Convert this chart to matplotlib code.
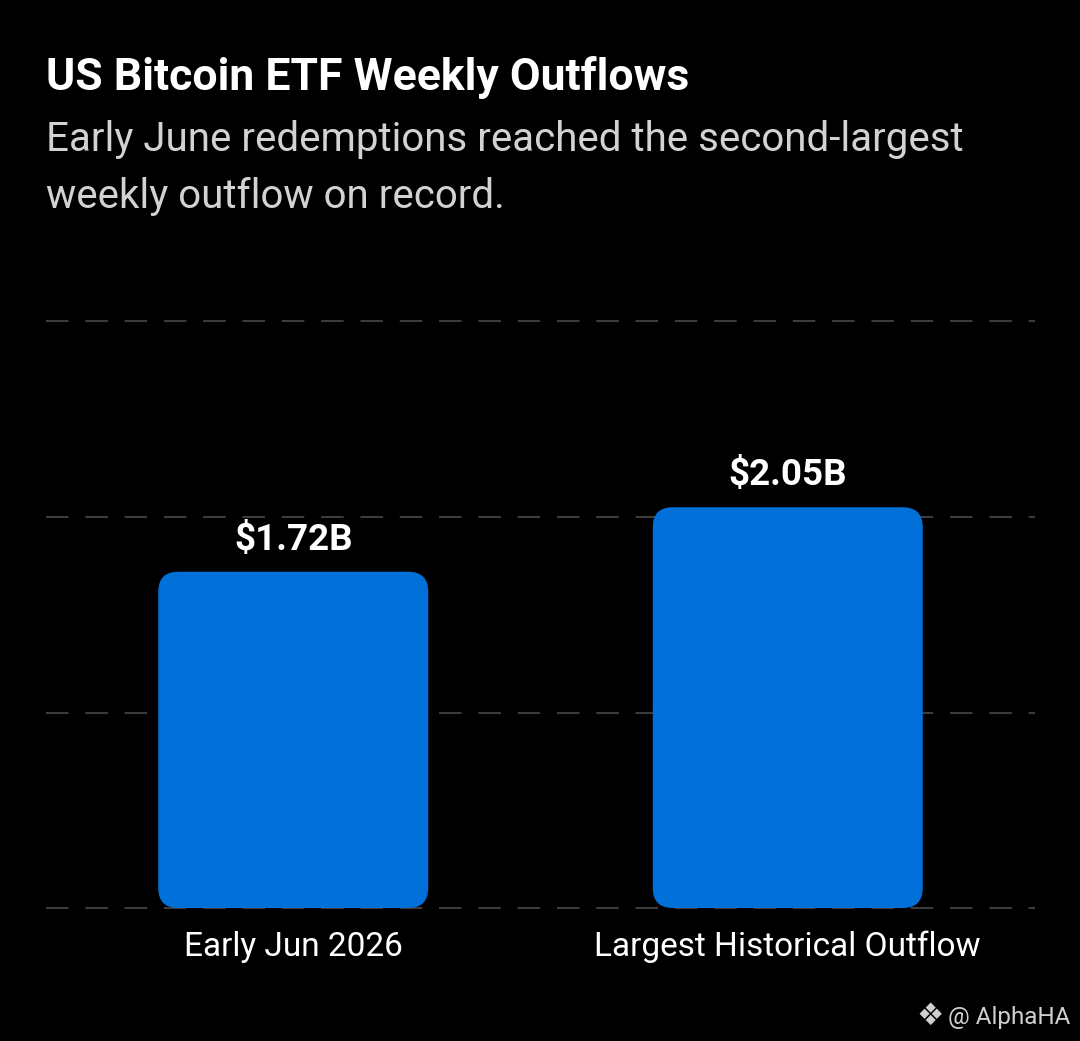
import matplotlib
matplotlib.use('Agg')
import matplotlib.pyplot as plt
from matplotlib.patches import FancyBboxPatch
from matplotlib.transforms import blended_transform_factory

categories = ['Early Jun 2026', 'Largest Historical Outflow']
outflows = [1.72, 2.05]
value_labels = ['$1.72B', '$2.05B']
grid_values = [0, 1, 2, 3]

title = 'US Bitcoin ETF Weekly Outflows'
subtitle = 'Early June redemptions reached the second-largest\nweekly outflow on record.'

plt.rcParams['font.family'] = ['Roboto', 'DejaVu Sans']
plt.rcParams['lines.scale_dashes'] = False

W, H = 1080, 1041
fig = plt.figure(figsize=(W / 100, H / 100), dpi=100, facecolor='black')

# axes placed in pixel terms: x from 46 to 1035, y=0 at 908 px, 1 unit = 195.5 px
px_per_unit = 195.5
y_top = 3.2
ax_left, ax_right = 46 / W, 1035 / W
ax_bottom = 1 - 908 / H
ax_height = y_top * px_per_unit / H
ax = fig.add_axes([ax_left, ax_bottom, ax_right - ax_left, ax_height])
ax.set_facecolor('black')
ax.set_xlim(-0.5, 1.5)
ax.set_ylim(0, y_top)

for g in grid_values:
    ax.axhline(g, color='#3c3c3c', lw=1.5, dashes=(16.2, 12.1), zorder=1, clip_on=False)

x_px_per_unit = (1035 - 46) / 2.0
bar_w = 270 / x_px_per_unit
radius_px = 20
for i, v in enumerate(outflows):
    patch = FancyBboxPatch((i - bar_w / 2, 0), bar_w, v,
                           boxstyle='round,pad=0,rounding_size=%f' % (radius_px / x_px_per_unit),
                           mutation_aspect=x_px_per_unit / px_per_unit,
                           facecolor='#0270D9', edgecolor='none', zorder=2)
    ax.add_patch(patch)
    ax.annotate(value_labels[i], xy=(i, v), xytext=(0, 15.8), textcoords='offset points',
                ha='center', va='baseline', color='white', fontsize=26.5, fontweight='bold')

trans = blended_transform_factory(ax.transData, fig.transFigure)
for i, c in enumerate(categories):
    fig.text(i, 1 - 956 / H, c, transform=trans, ha='center', va='baseline',
             color='white', fontsize=24)

ax.set_xticks([])
ax.set_yticks([])
for s in ax.spines.values():
    s.set_visible(False)

fig.text(46 / W, 1 - 90 / H, title, ha='left', va='baseline', color='white',
         fontsize=32, fontweight='bold')
fig.text(46 / W, 1 - 151 / H, subtitle.split('\n')[0], ha='left', va='baseline',
         color='#d2d2d2', fontsize=29)
fig.text(46 / W, 1 - 208 / H, subtitle.split('\n')[1], ha='left', va='baseline',
         color='#d2d2d2', fontsize=29)

fig.text(1070 / W, 1 - 1024 / H, '@ AlphaHA', ha='right', va='baseline',
         color='#cfcfcf', fontsize=17.5)
fig.text(930 / W, 1 - 1025 / H, '❖', ha='center', va='baseline',
         color='#cfcfcf', fontsize=22, family=['DejaVu Sans'])

fig.savefig('out.png', dpi=100, facecolor='black')
